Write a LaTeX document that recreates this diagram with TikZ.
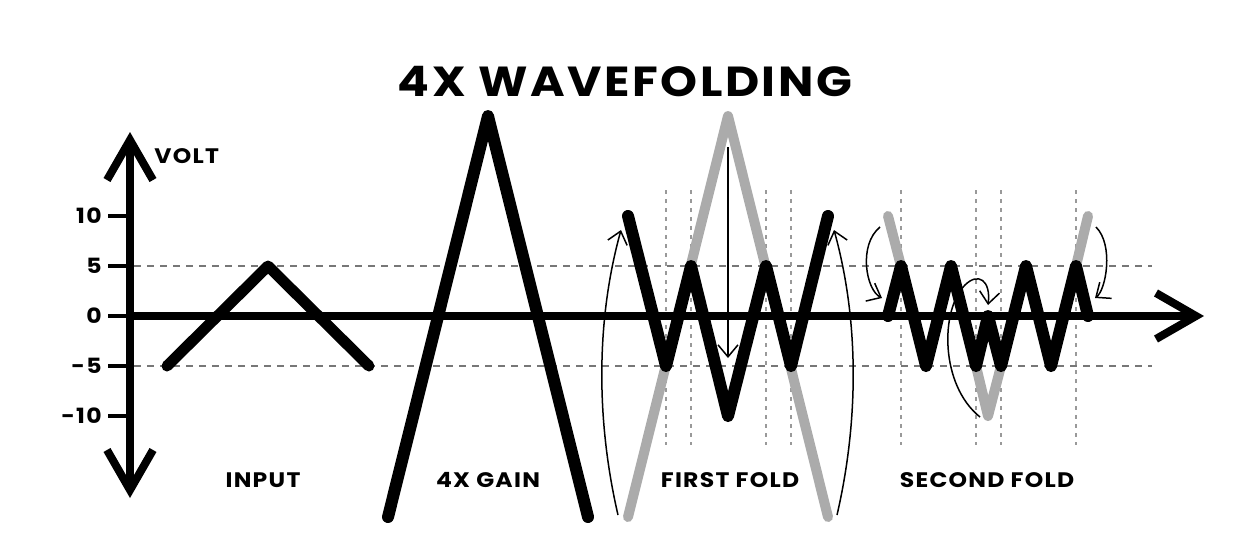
\documentclass[tikz,border=0pt]{standalone}
\usepackage{fontspec}
\setmainfont{Poppins}[FakeStretch=1.12, LetterSpace=6]
\usetikzlibrary{arrows.meta}
\definecolor{foldgray}{HTML}{ABABAB}
\definecolor{gridgray}{HTML}{777777}
\definecolor{markgray}{HTML}{999999}
\tikzset{
  wave/.style={line width=6pt, line cap=round, line join=round},
  ghostwave/.style={wave, foldgray, line width=5pt},
  axis/.style={line width=4pt},
  axistip/.tip={Straight Barb[length=20pt, width=23pt]},
  tickmark/.style={line width=2pt},
  level/.style={gridgray, line width=1pt, dash pattern=on 3.5pt off 3pt},
  foldmark/.style={markgray, line width=1pt, dash pattern=on 2pt off 2.5pt},
  flip/.style={line width=0.75pt, -{Straight Barb[length=6pt, width=10pt]}},
  txt/.style={font=\bfseries\fontsize{10.5}{12}\selectfont, inner sep=0pt},
}
\begin{document}
\begin{tikzpicture}[x=0.5pt, y=-0.5pt]
  \useasboundingbox (0,0) rectangle (1252,554);

  % levels at +5 and -5
  \draw[level] (108,266) -- (1152,266);
  \draw[level] (108,366) -- (1152,366);
  \foreach \x in {666,691,766,791,901,976,1001,1076}
    \draw[foldmark] (\x,190) -- (\x,445);

  % the unfolded waves in gray
  \draw[ghostwave] (628,517) -- (728,116) -- (828,517);
  \draw[ghostwave] (888,216) -- (901,266);
  \draw[ghostwave] (976,366) -- (988,416) -- (1001,366);
  \draw[ghostwave] (1076,266) -- (1088,216);

  % axes
  \foreach \v/\y in {10/216,5/266,0/316,-5/366,-10/416} {
    \draw[tickmark] (108,\y) -- (130,\y);
    \node[txt, anchor=east] (t\y) at (102,\y) {\v};
  }
  \draw[axis, axistip-axistip] (130,132) -- (130,498);
  \draw[axis, -axistip] (128,316) -- (1204,316);
  \node[txt, anchor=west] (volt) at (154,156) {VOLT};

  % folding arrows
  \draw[flip] (618,515) .. controls (596,420) and (596,320) .. (621,230);
  \draw[flip] (837,515) .. controls (859,420) and (859,320) .. (834,230);
  \draw[flip] (728,147) -- (728,358);
  \draw[flip] (880,227) .. controls (858,245) and (866,290) .. (882,298);
  \draw[flip] (1096,227) .. controls (1114,245) and (1106,290) .. (1095,298);
  \draw[flip] (980,417) .. controls (940,385) and (940,310) .. (965,285)
    .. controls (978,272) and (991,280) .. (988,305);

  % waves
  \draw[wave, line width=5.5pt] (167,366) -- (268,266) -- (369,366);
  \draw[wave] (388,517) -- (488,116) -- (588,517);
  \draw[wave] (628,216) -- (666,366) -- (691,266) -- (728,416)
    -- (766,266) -- (791,366) -- (828,216);
  \draw[wave] (888,316) -- (901,266) -- (926,366) -- (951,266) -- (976,366)
    -- (988,316) -- (1001,366) -- (1026,266) -- (1051,366) -- (1076,266)
    -- (1088,316);

  % labels
  \node[txt, font=\bfseries\fontsize{21}{24}\selectfont] (title) at (625,82) {4X WAVEFOLDING};
  \node[txt] (input) at (263,480) {INPUT};
  \node[txt] (gain) at (488,480) {4X GAIN};
  \node[txt] (fold1) at (730,480) {FIRST FOLD};
  \node[txt] (fold2) at (987,480) {SECOND FOLD};
\end{tikzpicture}
\end{document}
